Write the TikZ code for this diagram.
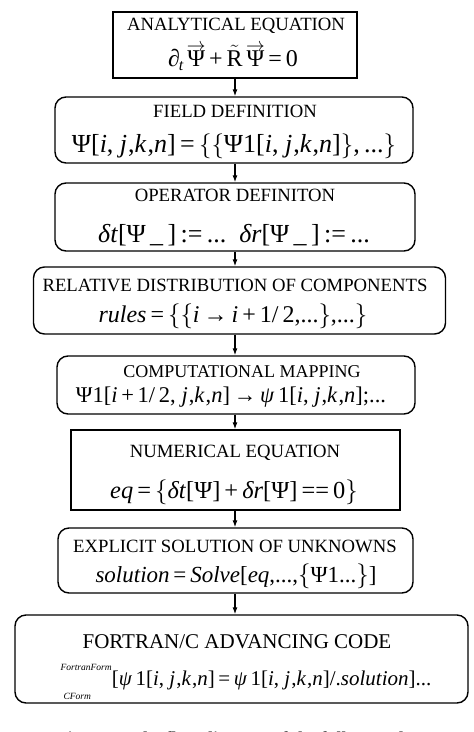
\documentclass[tikz,border=0pt]{standalone}
\usepackage[no-math]{fontspec}
\setmainfont{Liberation Serif}
\usetikzlibrary{arrows.meta}
\newcommand\vv[1]{\textit{#1}}
\newcommand\vecpsi{\ooalign{Ψ\cr\hidewidth\raisebox{0.6em}{\scalebox{0.75}[0.8]{$\rightarrow$}}\hidewidth\cr}}
\newcommand\ijkn{[\vv{i}, \vv{j}\kern1pt,\vv{k}\kern1pt,\vv{n}]}
\newcommand\stk{\begin{tabular}[c]{@{}l@{}}\fontsize{9.5}{11}\selectfont\itshape FortranForm\\[5pt]\fontsize{9.5}{11}\selectfont\itshape\hspace{3pt}CForm\end{tabular}}
\begin{document}
\begin{tikzpicture}[x=1pt,y=-1pt,
  box/.style={draw,line width=1.4pt,inner sep=0pt},
  rbox/.style={box,rounded corners=11pt},
  ttl/.style={anchor=base,inner sep=0pt,font=\fontsize{18.7}{20}\selectfont},
  eqn/.style={anchor=base,inner sep=0pt,font=\fontsize{23}{26}\selectfont},
  arr/.style={-{Latex[length=7pt,width=5pt]},line width=1.2pt}]
\useasboundingbox (0,0) rectangle (474,732);
\fill[white] (0,0) rectangle (474,732);
% boxes
\node[box, minimum width=244pt,minimum height=66pt] (b1) at (235,45) {};
\node[rbox,minimum width=358pt,minimum height=66pt] (b2) at (234,130) {};
\node[rbox,minimum width=360pt,minimum height=68pt] (b3) at (235,217) {};
\node[rbox,minimum width=412pt,minimum height=67pt] (b4) at (239.5,300.5) {};
\node[rbox,minimum width=358pt,minimum height=58pt] (b5) at (236,385) {};
\node[box, minimum width=329pt,minimum height=80pt] (b6) at (235.5,470) {};
\node[rbox,minimum width=355pt,minimum height=65pt] (b7) at (235.5,560.5) {};
\node[rbox,minimum width=453pt,minimum height=88pt] (b8) at (241.5,659) {};
% arrows
\foreach \a/\b in {b1/b2,b2/b3,b3/b4,b4/b5,b5/b6,b6/b7,b7/b8}
  \draw[arr] (\a.south -| b1.south) -- (\b.north -| b1.south);
% texts
\node[ttl] (t1) at (236,30) {ANALYTICAL EQUATION};
\node[eqn,font=\fontsize{24}{26}\selectfont] (e1) at (233,66) {∂\kern-1pt\raisebox{-0.2em}{\fontsize{16}{17}\selectfont\itshape t}\,\vecpsi\,+\,$\tilde{\hbox{R}}$\,\vecpsi\,=\,0};
\node[ttl] (t2) at (235,117) {FIELD DEFINITION};
\node[eqn,font=\fontsize{26}{28}\selectfont] (e2) at (234,152) {Ψ\ijkn\,=\,$\big\{\big\{$Ψ1\ijkn$\big\}$,\,...$\big\}$};
\node[ttl] (t3) at (235,201) {OPERATOR DEFINITON};
\node[eqn,font=\fontsize{26}{28}\selectfont] (e3) at (234,242) {\vv{δt}[Ψ\,\_\,]\,:=\,...\enspace\vv{δr}[Ψ\,\_\,]\,:=\,...};
\node[ttl] (t4) at (235,291) {RELATIVE DISTRIBUTION OF COMPONENTS};
\node[eqn,font=\fontsize{24}{26}\selectfont] (e4) at (233,322) {\vv{rules}\,=\,$\big\{\big\{$\vv{i}\,→\,\vv{i}\,+\,1/\,2,...$\big\}$,...$\big\}$};
\node[ttl,font=\fontsize{18}{20}\selectfont] (t5) at (242,377) {COMPUTATIONAL MAPPING};
\node[eqn,font=\fontsize{22.5}{25}\selectfont] (e5) at (231,402) {Ψ1[\vv{i}\,+\,1/\,2, \vv{j}\kern1pt,\vv{k}\kern1pt,\vv{n}]\,→\,\vv{ψ}\,1\ijkn;...};
\node[ttl] (t6) at (235,457) {NUMERICAL EQUATION};
\node[eqn,font=\fontsize{24.4}{26}\selectfont] (e6) at (234,498) {\vv{eq}\,=\,$\big\{$\vv{δt}[Ψ]\,+\,\vv{δr}[Ψ]\,==\,0$\big\}$};
\node[ttl] (t7) at (235,552) {EXPLICIT SOLUTION OF UNKNOWNS};
\node[eqn] (e7) at (236,582) {\vv{solution}\,=\,\vv{Solve}[\vv{eq},...,$\big\{$Ψ1...$\big\}$]};
\node[ttl,font=\fontsize{21}{24}\selectfont] (t8) at (237,648) {FORTRAN/C ADVANCING CODE};
\node[eqn,font=\fontsize{21}{24}\selectfont] (e8) at (246,685) {\stk[\vv{ψ}\,1\ijkn\,=\,\vv{ψ}\,1\ijkn/.\vv{solution}]...};
\node[anchor=base,inner sep=0pt,font=\bfseries\fontsize{18}{20}\selectfont] (cap) at (243,744) {Figure 3. The flow diagram of the full procedure};
\end{tikzpicture}
\end{document}
